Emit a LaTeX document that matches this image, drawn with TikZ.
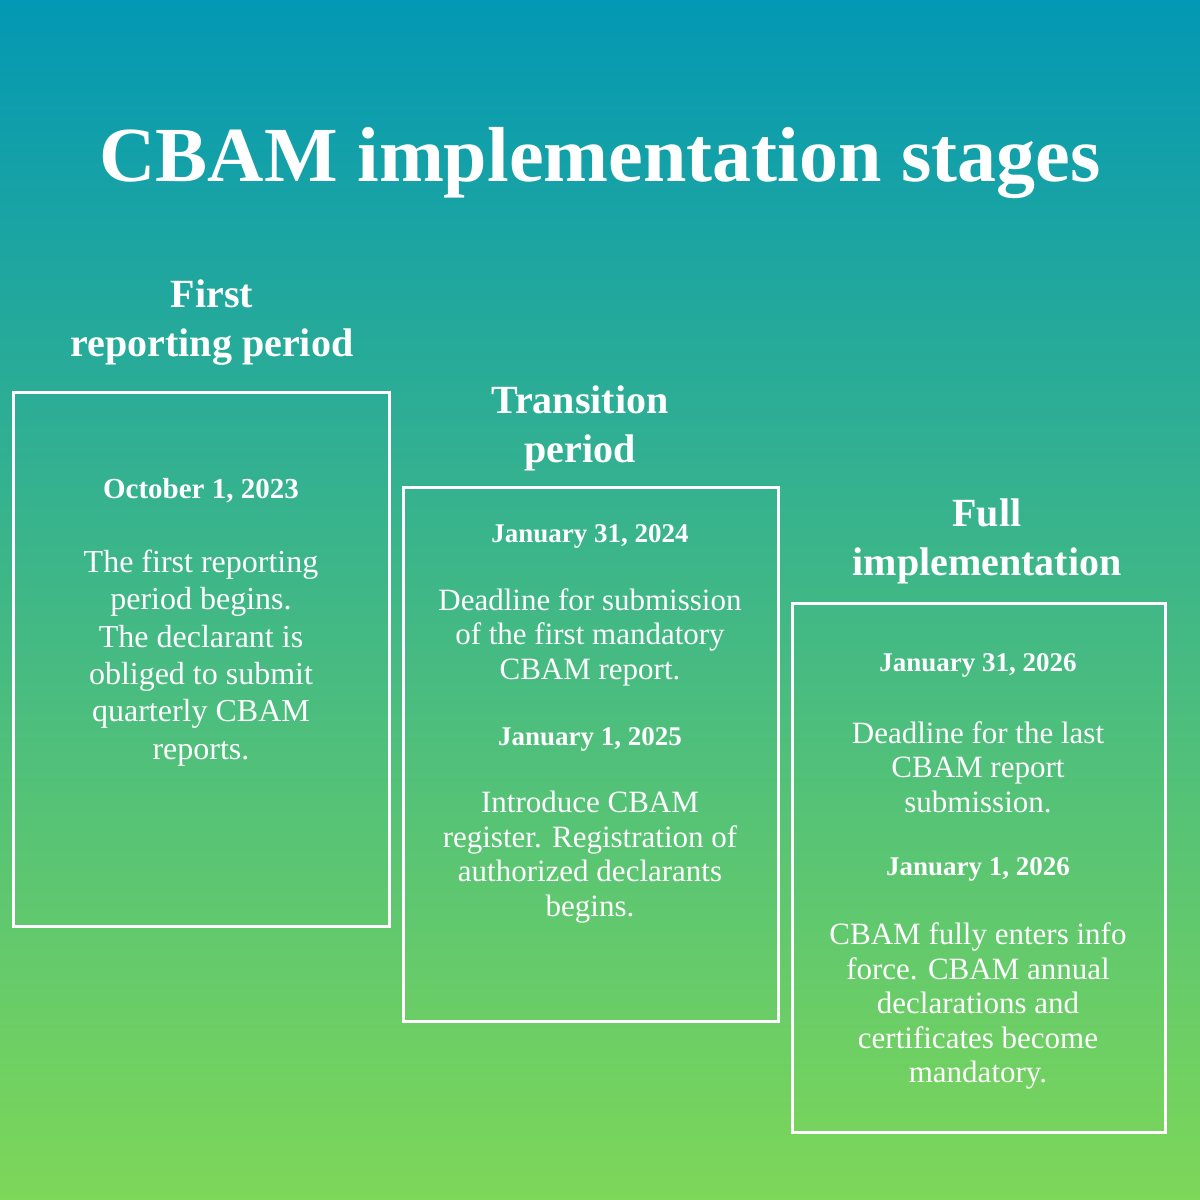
\documentclass[tikz,border=0pt]{standalone}
\usepackage{fontspec}
\setmainfont{Liberation Serif}
\usetikzlibrary{positioning}
\definecolor{topteal}{HTML}{0398B4}
\definecolor{bottomgreen}{HTML}{7DD758}
\begin{document}
\begin{tikzpicture}[
        x=1pt, y=-1pt,
        stage/.style={draw=white, line width=3pt},
        heading/.style={text=white, align=center, font=\fontsize{40}{49}\selectfont\bfseries},
        date/.style={text=white, font=\fontsize{29}{34}\selectfont\bfseries},
        body/.style={text=white, align=center, font=\fontsize{31}{34.5}\selectfont}
    ]
        % Background
        \shade[top color=topteal, bottom color=bottomgreen] (0,0) rectangle (1200,1200);
        \useasboundingbox (0,0) rectangle (1200,1200);

        % Title
        \node (title) [text=white, font=\fontsize{78}{80}\selectfont\bfseries] at (600,163) {CBAM implementation stages};

        % Stages
        \draw[stage] (13,392) rectangle (389,926);
        \draw[stage] (403,487) rectangle (778,1021);
        \draw[stage] (792,603) rectangle (1165,1132);

        \node (head1) [heading] at (212,323) {First\\reporting period};
        \node (head2) [heading] at (580,428) {Transition\\period};
        \node (head3) [heading] at (987,541) {Full\\implementation};

        % First reporting period
        \node (date1) [date] at (201,491) {October 1, 2023};
        \node (text1) [body, font=\fontsize{32}{37.4}\selectfont] at (201,658) {The first reporting\\period begins.\\The declarant is\\obliged to submit\\quarterly CBAM\\reports.};

        % Transition period
        \node (date2) [date, font=\fontsize{27}{32}\selectfont\bfseries] at (590,536) {January 31, 2024};
        \node (text2) [body] at (590,637) {Deadline for submission\\of the first mandatory\\CBAM report.};
        \node (date3) [date, font=\fontsize{27}{32}\selectfont\bfseries] at (590,739) {January 1, 2025};
        \node (text3) [body] at (590,857) {Introduce CBAM\\register. Registration of\\authorized declarants\\begins.};

        % Full implementation
        \node (date4) [date, font=\fontsize{27}{32}\selectfont\bfseries] at (978,665) {January 31, 2026};
        \node (text4) [body] at (978,767) {Deadline for the last\\CBAM report\\submission.};
        \node (date5) [date, font=\fontsize{27}{32}\selectfont\bfseries] at (978,869) {January 1, 2026};
        \node (text5) [body] at (978,1006) {CBAM fully enters info\\force. CBAM annual\\declarations and\\certificates become\\mandatory.};
    \end{tikzpicture}
\end{document}
